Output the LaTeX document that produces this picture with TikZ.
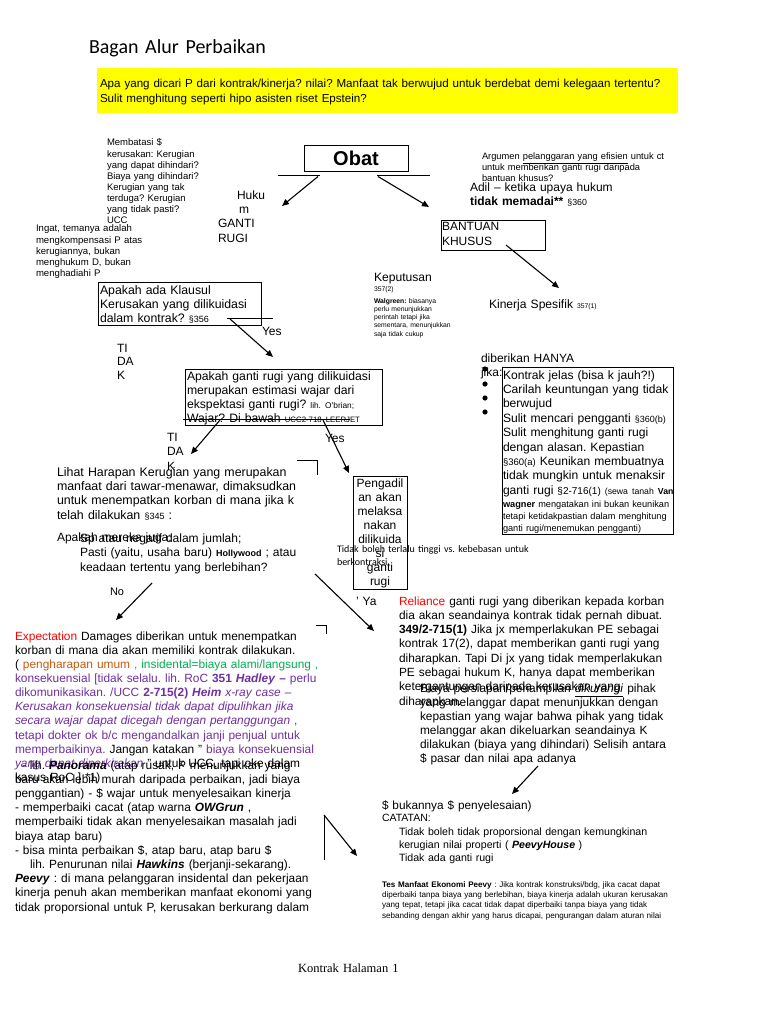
\documentclass[tikz,border=0pt]{standalone}
\usepackage{fontspec}
\setmainfont{Liberation Sans}
\newfontfamily\calfont{Carlito}
\newfontfamily\serffont{Liberation Serif}
\usetikzlibrary{arrows.meta}
\definecolor{hlyellow}{RGB}{255,255,0}
\definecolor{expred}{RGB}{255,0,0}
\definecolor{expbrown}{RGB}{197,90,17}
\definecolor{expgreen}{RGB}{0,176,80}
\definecolor{exppurple}{RGB}{112,48,160}
\newcommand{\fsz}[2]{\fontsize{#1}{#2}\selectfont}
\newcommand{\smt}[2]{{\fontsize{#1}{#1}\selectfont #2}}
\newcommand{\bi}[1]{\textbf{\textit{#1}}}
\frenchspacing
\begin{document}
\frenchspacing
\begin{tikzpicture}[x=1pt,y=-1pt,
  txt/.style={anchor=base west, inner sep=0pt, outer sep=0pt, align=left, text width=700pt, execute at begin node=\frenchspacing},
  boxd/.style={draw=black, line width=0.8pt, rectangle, inner sep=0pt, anchor=north west},
  arr/.style={line width=1.1pt, -{Triangle[length=7pt,width=6pt]}},
  ln/.style={line width=1pt},
]
\useasboundingbox (0,0) rectangle (768,1024);
\fill[white] (0,0) rectangle (768,1024);

% title and yellow box
\node[txt, font=\calfont\fsz{20}{24}] (title) at (89,54) {Bagan Alur Perbaikan};
\node[fill=hlyellow, minimum width=581pt, minimum height=45pt, anchor=north west, inner sep=0pt] (ybox) at (97,68) {};
\node[txt, font=\fsz{11.6}{14.5}] (ytext) at (100,88) {Apa yang dicari P dari kontrak/kinerja? nilai? Manfaat tak berwujud untuk berdebat demi kelegaan tertentu?\\Sulit menghitung seperti hipo asisten riset Epstein?};

% left notes
\node[txt, font=\fsz{9.5}{11.1}] (lim) at (107,146) {Membatasi \$\\kerusakan: Kerugian\\yang dapat dihindari?\\Biaya yang dihindari?\\Kerugian yang tak\\terduga? Kerugian\\yang tidak pasti?\\UCC};
\node[txt, font=\fsz{9.6}{11.2}] (ingat) at (36,232) {Ingat, temanya adalah\\mengkompensasi P atas\\kerugiannya, bukan\\menghukum D, bukan\\menghadiahi P};
\node[txt, font=\fsz{12}{14}] (huku1) at (237,200) {Huku};
\node[txt, font=\fsz{12}{14}] (huku2) at (239,214) {m};
\node[txt, font=\fsz{12}{14}] (ganti) at (218,228) {GANTI};
\node[txt, font=\fsz{12}{14}] (rugi) at (218,242) {RUGI};

% Obat
\node[draw=black, line width=0.8pt, minimum width=104pt, minimum height=26pt, inner sep=0pt, font=\fsz{20}{24}\bfseries] (obat) at (356,158) {Obat};
\coordinate (obL1) at (278,176); \coordinate (obL2) at (320,176);
\coordinate (obLs) at (318,176.5); \coordinate (obLe) at (282,206);
\draw[ln] (obL1) -- (obL2);
\draw[arr] (obLs) -- (obLe);
\coordinate (obR1) at (377,176); \coordinate (obR2) at (430,176);
\coordinate (obRs) at (378,176.5); \coordinate (obRe) at (429,207);
\draw[ln] (obR1) -- (obR2);
\draw[arr] (obRs) -- (obRe);

% right top
\node[txt, font=\fsz{9.3}{10.9}] (argumen) at (482,159.5) {Argumen \underline{pelanggaran yang efisien} untuk ct\\untuk memberikan ganti rugi daripada\\bantuan khusus?};
\node[txt, font=\fsz{12}{13.2}] (adil) at (470,192) {Adil – ketika upaya hukum\\\textbf{tidak memadai**} \smt{8.8}{§360}};
\node[boxd, minimum width=104pt, minimum height=30pt] (bantuan) at (441,220) {};
\node[txt, font=\fsz{12}{14}] (bantuant) at (442,231) {BANTUAN\\KHUSUS};
\coordinate (bks) at (506,245); \coordinate (bke) at (559,288);
\draw[arr] (bks) -- (bke);
\node[txt, font=\fsz{12.1}{14}] (keput) at (374,281) {Keputusan};
\node[txt, font=\fsz{6.8}{8}] (keputn) at (374,291) {357(2)};
\node[txt, font=\fsz{6.8}{8.3}] (walg) at (374,303) {\textbf{Walgreen:} biasanya\\perlu menunjukkan\\perintah tetapi jika\\sementara, menunjukkan\\saja tidak cukup};
\node[txt, font=\fsz{12.1}{14}] (kinerja) at (489,308) {Kinerja Spesifik \smt{6.8}{357(1)}};

% Klausul box
\node[boxd, minimum width=163pt, minimum height=43pt] (klausul) at (98,282) {};
\node[txt, font=\fsz{12.3}{14}] (klausult) at (100,294) {Apakah ada Klausul\\Kerusakan yang dilikuidasi\\dalam kontrak? \smt{9}{§356}};
\coordinate (k1a) at (227,318); \coordinate (k1b) at (273,318);
\coordinate (k1s) at (230,319); \coordinate (k1e) at (273,357);
\draw[ln] (k1a) -- (k1b);
\draw[arr] (k1s) -- (k1e);
\node[txt, font=\fsz{12}{14}] (yes1) at (262,335) {Yes};
\node[txt, font=\fsz{12}{13.8}] (tidak1) at (117,352) {TI\\DA\\K};

% estimation box
\node[boxd, minimum width=197pt, minimum height=56pt] (estim) at (185,369) {};
\node[txt, font=\fsz{12.2}{14}] (estimt) at (187,380) {Apakah ganti rugi yang dilikuidasi\\merupakan estimasi wajar dari\\ekspektasi ganti rugi? \smt{8.3}{lih. O'brian;}\\Wajar? Di bawah \smt{7.8}{UCC2-718 LEERJET}};
\coordinate (e1a) at (183,419); \coordinate (e1b) at (350,419);
\draw[ln] (e1a) -- (e1b);
\coordinate (e1ls) at (220,420); \coordinate (e1le) at (191,454);
\coordinate (e1rs) at (323,420); \coordinate (e1re) at (349,473);
\draw[arr] (e1ls) -- (e1le);
\draw[arr] (e1rs) -- (e1re);
\node[txt, font=\fsz{12}{14}] (yes2) at (325,442) {Yes};
\node[txt, font=\fsz{12}{14.8}] (tidak2) at (167,441) {TI\\DA\\K};
\coordinate (c1a) at (297,460); \coordinate (c1b) at (317,460); \coordinate (c1c) at (317,475);
\draw[ln] (c1a) -- (c1b) -- (c1c);

% Lihat block
\node[txt, font=\fsz{12.4}{14.4}] (lihat) at (57,476) {Lihat Harapan Kerugian yang merupakan\\manfaat dari tawar-menawar, dimaksudkan\\untuk menempatkan korban di mana jika k\\telah dilakukan \smt{9}{§345} :};
\node[txt, font=\fsz{12}{14.2}] (apakahj) at (57,541) {Apakah mereka juga:};
\node[txt, font=\fsz{12}{14.6}] (spek) at (80,542) {Sp atau negatif dalam jumlah;\\Pasti (yaitu, usaha baru) \smt{9}{\textbf{Hollywood}} ; atau\\keadaan tertentu yang berlebihan?};
\node[txt, font=\fsz{11}{13}] (no) at (110,595) {No};
\coordinate (nos) at (152,583); \coordinate (noe) at (116,620);
\draw[arr] (nos) -- (noe);

% Pengadilan box
\node[boxd, minimum width=54pt, minimum height=113pt] (peng) at (353,476) {};
\node[anchor=base, inner sep=0pt, align=center, text width=54pt, font=\fsz{12}{14.1}] (pengt) at (380,487) {Pengadil\\an akan\\melaksa\\nakan\\dilikuida\\si\\ganti\\rugi};
\node[txt, font=\calfont\fsz{10}{13}] (tdkboleh) at (337,552) {Tidak boleh terlalu tinggi vs. kebebasan untuk\\berkontraksi.};
\node[txt, font=\fsz{12}{14}] (ya) at (356,605) {’ Ya};
\coordinate (yas) at (315,574); \coordinate (yae) at (374,631);
\draw[arr] (yas) -- (yae);
\coordinate (c2a) at (316,625); \coordinate (c2b) at (326,625); \coordinate (c2c) at (326,634);
\draw[ln] (c2a) -- (c2b) -- (c2c);

% Expectation block
\node[txt, font=\fsz{11.9}{14.15}] (expect) at (15,640) {{\color{expred}Expectation} Damages diberikan untuk menempatkan\\
korban di mana dia akan memiliki kontrak dilakukan.\\
( {\color{expbrown}pengharapan umum} {\color{expgreen}, insidental=biaya alami/langsung ,}\\
{\color{exppurple}konsekuensial [tidak selalu. lih. RoC \textbf{351} \bi{Hadley} \textbf{–} perlu}\\
{\color{exppurple}dikomunikasikan. /UCC \textbf{2-715(2)} \bi{Heim} \textit{x-ray case –}}\\
{\color{exppurple}\textit{Kerusakan konsekuensial tidak dapat dipulihkan jika}}\\
{\color{exppurple}\textit{secara wajar dapat dicegah dengan pertanggungan} ,}\\
{\color{exppurple}tetapi dokter ok b/c mengandalkan janji penjual untuk}\\
{\color{exppurple}memperbaikinya.} Jangan katakan " {\color{exppurple}biaya konsekuensial}\\
{\color{exppurple}\textit{yang dapat diperkirakan}} " untuk UCC, tapi oke dalam\\
kasus RoC ] *1)};
\node[txt, font=\fsz{11.9}{14.2}] (expect2) at (15,769) {\hspace*{7pt}- lih. \bi{Panorama} (atap rusak, P menunjukkan yang\\
baru akan lebih murah daripada perbaikan, jadi biaya\\
penggantian) - \$ wajar untuk menyelesaikan kinerja\\
- memperbaiki cacat (atap warna \bi{OWGrun} ,\\
memperbaiki tidak akan menyelesaikan masalah jadi\\
biaya atap baru)\\
- bisa minta perbaikan \$, atap baru, atap baru \$\\
\hspace*{15pt}lih. Penurunan nilai \bi{Hawkins} (berjanji-sekarang).\\
\bi{Peevy} : di mana pelanggaran insidental dan pekerjaan\\
kinerja penuh akan memberikan manfaat ekonomi yang\\
tidak proporsional untuk P, kerusakan berkurang dalam};

% Reliance block
\node[txt, font=\fsz{11.9}{14.3}] (reli) at (399,605) {{\color{expred}Reliance} ganti rugi yang diberikan kepada korban\\
dia akan seandainya kontrak tidak pernah dibuat.\\
\textbf{349/2-715(1)} Jika jx memperlakukan PE sebagai\\
kontrak 17(2), dapat memberikan ganti rugi yang\\
diharapkan. Tapi Di jx yang tidak memperlakukan\\
PE sebagai hukum K, hanya dapat memberikan\\
ketergantungan daripada kerusakan yang\\
diharapkan.};
\node[txt, font=\fsz{11.9}{14.1}] (reli2) at (420,692) {Biaya persiapan/penampilan \underline{\textit{dikurangi}} pihak\\
yang melanggar dapat menunjukkan dengan\\
kepastian yang wajar bahwa pihak yang tidak\\
melanggar akan dikeluarkan seandainya K\\
dilakukan (biaya yang dihindari) Selisih antara\\
\$ pasar dan nilai apa adanya};
\coordinate (r2s) at (538,766); \coordinate (r2e) at (512,794);
\draw[arr] (r2s) -- (r2e);

% bottom right
\node[txt, font=\fsz{11.8}{14}] (bukan) at (382,809) {\$ bukannya \$ penyelesaian)};
\node[txt, font=\fsz{10.5}{12}] (catatan) at (382,821) {CATATAN:};
\node[txt, font=\fsz{10.6}{13}] (catlist) at (399,835) {Tidak boleh tidak proporsional dengan kemungkinan\\kerugian nilai properti ( \bi{PeevyHouse} )\\Tidak ada ganti rugi};
\node[txt, font=\fsz{8.1}{10.4}] (tes) at (382,887) {\textbf{Tes Manfaat Ekonomi Peevy} : Jika kontrak konstruksi/bdg, jika cacat dapat\\diperbaiki tanpa biaya yang berlebihan, biaya kinerja adalah ukuran kerusakan\\yang tepat, tetapi jika cacat tidak dapat diperbaiki tanpa biaya yang tidak\\sebanding dengan akhir yang harus dicapai, pengurangan dalam aturan nilai};
\coordinate (v1a) at (324,815); \coordinate (v1b) at (324,860); \coordinate (v1e) at (357,856);
\draw[ln] (v1a) -- (v1b);
\draw[arr] (v1a) -- (v1e);

% right list
\node[txt, font=\fsz{12}{14}] (hanya) at (481,362) {diberikan HANYA};
\node[txt, font=\fsz{12}{14}] (jika) at (481,376) {jika:};
\fill (485,369) circle (2.6pt);
\fill (485,384) circle (2.6pt);
\fill (485,398) circle (2.6pt);
\fill (485,412) circle (2.6pt);
\node[boxd, fill=white, minimum width=171pt, minimum height=167pt] (listbox) at (502,367) {};
\node[txt, font=\fsz{12.1}{14.4}] (listt) at (503,379) {Kontrak jelas (bisa k jauh?!)\\
Carilah keuntungan yang tidak\\
berwujud\\
Sulit mencari pengganti \smt{9}{§360(b)}\\
Sulit menghitung ganti rugi\\
dengan alasan. Kepastian\\
\smt{9.5}{§360(a)} Keunikan membuatnya\\
tidak mungkin untuk menaksir\\
ganti rugi \smt{10}{§2-716(1)} \smt{8.7}{(sewa tanah \textbf{Van}}};
\node[txt, font=\fsz{9.2}{12}] (listt2) at (503,507) {\textbf{wagner} mengatakan ini bukan keunikan\\tetapi ketidakpastian dalam menghitung\\ganti rugi/menemukan pengganti)};

% footer
\node[txt, font=\serffont\fsz{12.5}{14}] (footer) at (298,972) {Kontrak Halaman 1};
\end{tikzpicture}
\end{document}
